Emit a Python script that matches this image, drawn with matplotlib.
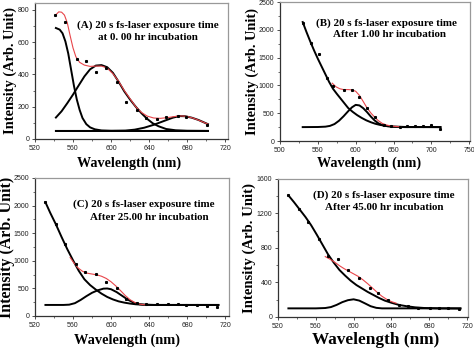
import matplotlib
matplotlib.use("Agg")
import matplotlib.pyplot as plt
from matplotlib.ticker import MultipleLocator

# ---- (A) 0.00 hr ----
a_pts_x = [541, 552, 564, 574, 584, 595, 606, 616, 627, 637, 648, 658, 670, 679, 701]
a_pts_y = [770, 728, 495, 486, 418, 439, 356, 232, 180, 128, 122, 135, 143, 135, 87]
a_base_x = [542, 702]
a_base_y = [50, 50]
a_p1_x = [542, 546, 549, 552, 555, 558, 561, 564, 567, 570, 574, 578, 583, 590, 600, 620, 702]
a_p1_y = [688, 678, 655, 605, 530, 430, 330, 245, 180, 130, 92, 72, 60, 53, 51, 50, 50]
a_p2_x = [542, 548, 554, 560, 566, 572, 578, 584, 590, 596, 602, 608, 614, 620, 626, 632,
          638, 644, 650, 658, 668, 680, 702]
a_p2_y = [133, 172, 222, 275, 332, 388, 432, 455, 458, 445, 410, 355, 295, 245, 200, 160,
          125, 97, 79, 62, 54, 51, 50]
a_p3_x = [542, 600, 615, 625, 635, 645, 655, 665, 672, 678, 685, 692, 702]
a_p3_y = [50, 50, 52, 58, 70, 88, 110, 132, 142, 141, 132, 118, 92]
a_fit_x = [542, 545, 548, 551, 554, 557, 560, 563, 567, 572, 578, 584, 590, 596, 602, 608,
           614, 620, 626, 632, 638, 645, 652, 660, 668, 674, 680, 686, 692, 698, 702]
a_fit_y = [770, 788, 786, 768, 720, 640, 565, 510, 475, 458, 450, 452, 452, 440, 405, 358,
           300, 250, 200, 165, 142, 130, 128, 133, 140, 143, 140, 130, 117, 102, 92]

# ---- (B) 1.00 hr ----
b_pts_x = [530, 541, 551, 562, 570, 584, 595, 605, 615, 625, 637, 647, 658, 668, 678, 689, 700, 712]
b_pts_y = [2130, 1757, 1565, 1128, 990, 917, 917, 797, 588, 426, 288, 276, 246, 262, 276, 270, 282, 210]
b_dec_x = [530, 535, 540, 545, 550, 555, 560, 565, 570, 575, 580, 585, 590, 596, 602, 608,
           614, 620, 626, 632, 640, 650, 665, 712]
b_dec_y = [2140, 1960, 1790, 1630, 1480, 1340, 1200, 1060, 940, 850, 765, 680, 595, 525, 465, 415,
           372, 338, 310, 290, 272, 260, 253, 250]
b_pk_x = [530, 550, 560, 566, 572, 578, 584, 590, 595, 600, 605, 610, 615, 620, 625, 630,
          636, 642, 650, 665, 712]
b_pk_y = [250, 252, 258, 272, 305, 365, 445, 535, 605, 650, 640, 590, 520, 440, 370, 318,
          282, 265, 255, 250, 250]
b_fit_x = [569, 574, 579, 584, 590, 595, 600, 605, 610, 615, 620, 625, 630, 635, 640, 646, 652, 660]
b_fit_y = [1040, 975, 940, 925, 925, 920, 895, 820, 710, 595, 505, 430, 365, 318, 290, 272, 262, 256]

# ---- (C) 25.00 hr ----
c_pts_x = [531, 542, 552, 563, 573, 584, 595, 606, 616, 627, 637, 648, 660, 670, 679, 690, 701, 712]
c_pts_y = [2060, 1670, 1296, 934, 790, 754, 610, 514, 308, 229, 211, 217, 211, 223, 199, 199, 181, 169]
c_dec_x = [531, 536, 542, 548, 554, 560, 566, 572, 578, 584, 590, 596, 602, 608, 614, 620,
           626, 634, 645, 713]
c_dec_y = [2060, 1870, 1660, 1430, 1210, 1010, 820, 665, 560, 478, 405, 345, 300, 265, 242, 225,
           212, 204, 200, 200]
c_pk_x = [531, 550, 556, 562, 568, 574, 580, 586, 592, 596, 600, 606, 612, 618, 624, 630,
          636, 645, 713]
c_pk_y = [200, 200, 205, 232, 290, 358, 420, 465, 495, 498, 485, 432, 362, 292, 240, 213,
          203, 200, 200]
c_fit_x = [557, 561, 565, 570, 575, 580, 585, 590, 595, 600, 605, 610, 615, 620, 625, 630, 636]
c_fit_y = [1060, 960, 875, 810, 775, 760, 745, 720, 680, 620, 545, 460, 370, 295, 245, 215, 202]

# ---- (D) 45.00 hr ----
d_pts_x = [531, 542, 552, 563, 573, 583, 594, 606, 617, 626, 636, 648, 658, 668, 681, 690, 700, 712]
d_pts_y = [1410, 1250, 1096, 900, 707, 669, 544, 447, 331, 275, 195, 144, 125, 110, 110, 105, 100, 88]
d_dec_x = [531, 537, 543, 549, 555, 561, 567, 573, 579, 585, 591, 597, 603, 609, 615, 621,
           627, 633, 640, 648, 656, 665, 675, 690, 713]
d_dec_y = [1410, 1330, 1245, 1160, 1065, 955, 840, 725, 630, 545, 480, 420, 370, 330, 290, 255,
           220, 190, 165, 140, 125, 112, 104, 100, 98]
d_pk_x = [531, 560, 570, 576, 582, 588, 594, 600, 606, 612, 618, 624, 630, 713]
d_pk_y = [100, 100, 104, 115, 140, 172, 195, 205, 190, 158, 125, 106, 100, 100]
d_fit_x = [570, 575, 580, 585, 590, 595, 600, 605, 610, 615, 620, 625, 630, 635, 640, 645]
d_fit_y = [700, 670, 635, 595, 560, 530, 500, 470, 430, 385, 335, 285, 240, 205, 178, 160]

label_font = dict(family="Liberation Serif", weight="bold")

fig = plt.figure(figsize=(4.74, 3.48), dpi=100)


def style(ax, xlim, ylim, xstep, ystep):
    ax.set_xlim(*xlim)
    ax.set_ylim(*ylim)
    ax.xaxis.set_major_locator(MultipleLocator(xstep))
    ax.xaxis.set_minor_locator(MultipleLocator(xstep / 2))
    ax.yaxis.set_major_locator(MultipleLocator(ystep))
    ax.yaxis.set_minor_locator(MultipleLocator(ystep / 2))
    ax.tick_params(which="major", direction="out", length=2.5, width=0.6, labelsize=5, pad=1.5,
                   color="#333333", labelcolor="#222222")
    ax.tick_params(which="minor", direction="out", length=1.5, width=0.5, color="#333333")
    for lab in ax.get_xticklabels() + ax.get_yticklabels():
        lab.set_family("Liberation Sans")
    for side in ["left", "bottom"]:
        ax.spines[side].set_color("#333333")
        ax.spines[side].set_linewidth(0.9)
    for side in ["top", "right"]:
        ax.spines[side].set_color("#999999")
        ax.spines[side].set_linewidth(0.9)


def panel(rect, curves, fit, pts, xlim, ylim, xstep, ystep, title, lines, ylab_x, xlab_pos,
          lab_sizes):
    ax = fig.add_axes(rect)
    for cx, cy in curves:
        ax.plot(cx, cy, color="black", lw=1.4, zorder=2)
    ax.plot(fit[0], fit[1], color="#e8454a", lw=0.8, zorder=3)
    ax.plot(pts[0], pts[1], "s", color="black", ms=1.2, zorder=4)
    style(ax, xlim, ylim, xstep, ystep)
    for (tx, ty), txt in zip(title, lines):
        ax.text(tx, ty, txt, transform=ax.transAxes, ha="center", va="center",
                fontsize=7.9, **label_font)
    ax.text(ylab_x, 0.5, "Intensity (Arb. Unit)", transform=ax.transAxes, rotation=90,
            ha="center", va="center", fontsize=lab_sizes[0], **label_font)
    ax.text(xlab_pos[0], xlab_pos[1], "Wavelength (nm)", transform=ax.transAxes,
            ha="center", va="center", fontsize=lab_sizes[1], **label_font)
    return ax


panel([0.0738, 0.6006, 0.407, 0.3908],
      [(a_base_x, a_base_y), (a_p1_x, a_p1_y), (a_p2_x, a_p2_y), (a_p3_x, a_p3_y)],
      (a_fit_x, a_fit_y), (a_pts_x, a_pts_y),
      (520, 723), (0, 843), 40, 200,
      [(0.585, 0.84), (0.585, 0.745)],
      ["(A) 20 s fs-laser exposure time", "at 0. 00 hr incubation"],
      -0.13, (0.49, -0.175), (10.4, 10.2))

panel([0.5907, 0.5948, 0.4008, 0.3994],
      [(b_dec_x, b_dec_y), (b_pk_x, b_pk_y)],
      (b_fit_x, b_fit_y), (b_pts_x, b_pts_y),
      (500, 751), (0, 2500), 50, 500,
      [(0.56, 0.845), (0.575, 0.765)],
      ["(B) 20 s fs-laser exposure time", "After 1.00 hr incubation"],
      -0.147, (0.47, -0.16), (10.4, 10.2))

panel([0.0738, 0.092, 0.409, 0.3966],
      [(c_dec_x, c_dec_y), (c_pk_x, c_pk_y)],
      (c_fit_x, c_fit_y), (c_pts_x, c_pts_y),
      (520, 724), (0, 2500), 40, 500,
      [(0.56, 0.81), (0.59, 0.715)],
      ["(C) 20 s fs-laser exposure time", "After 25.00 hr incubation"],
      -0.144, (0.474, -0.175), (11.5, 10.4))

panel([0.5865, 0.0891, 0.4008, 0.3966],
      [(d_dec_x, d_dec_y), (d_pk_x, d_pk_y)],
      (d_fit_x, d_fit_y), (d_pts_x, d_pts_y),
      (520, 721), (0, 1600), 40, 400,
      [(0.555, 0.88), (0.56, 0.79)],
      ["(D) 20 s fs-laser exposure time", "After 45.00 hr incubation"],
      -0.153, (0.516, -0.167), (10.6, 12.4))

fig.savefig("out.png", dpi=100)
